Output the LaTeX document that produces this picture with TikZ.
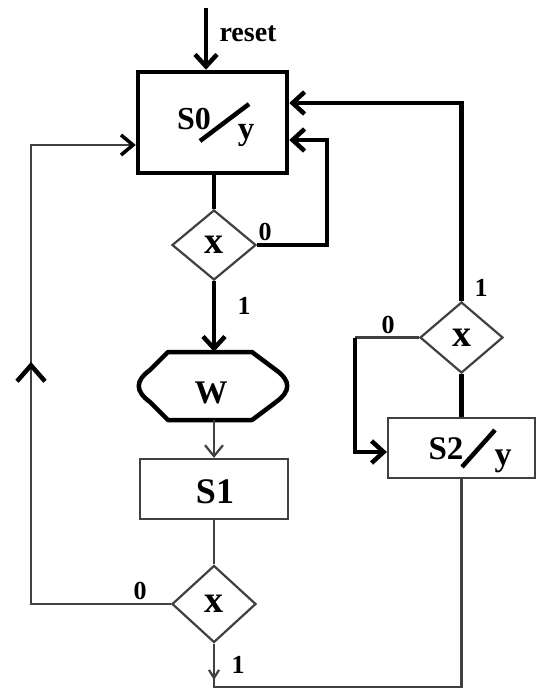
\documentclass[tikz,border=0pt]{standalone}
\usepackage{fontspec}
\setmainfont{Liberation Serif}
\usetikzlibrary{arrows.meta,shapes.geometric,decorations.markings}
\begin{document}
\begin{tikzpicture}[x=1pt,y=-1pt,
  thickline/.style={line width=4.5pt,black},
  thinline/.style={line width=2.2pt,black!75},
  bigarrow/.style={-{Straight Barb[length=12pt,width=22pt]}},
  thinarrow/.style={-{Straight Barb[length=11pt,width=18pt]}},
  smallarrow/.style={-{Straight Barb[length=8pt,width=10pt]}},
  thickbox/.style={draw=black,line width=4.5pt,rectangle,inner sep=0pt},
  thinbox/.style={draw=black!75,line width=2.2pt,rectangle,inner sep=0pt},
  dia/.style={draw=black!75,line width=2.2pt,diamond,inner sep=0pt,
    font=\fontsize{38}{38}\bfseries\selectfont},
  txt/.style={inner sep=0pt,anchor=base},
  lbl/.style={inner sep=0pt,anchor=base,font=\fontsize{26}{26}\bfseries\selectfont}]
\useasboundingbox (0,0) rectangle (551,693);
\fill[white] (0,0) rectangle (551,693);

% nodes
\node[thickbox,minimum width=149pt,minimum height=101pt] (S0) at (212.5,122.5) {};
\node[dia,minimum width=84pt,minimum height=70pt] (d1) at (214,245) {x};
\node[inner sep=0pt,minimum width=150pt,minimum height=68pt] (W) at (213,386) {};
\node[thinbox,minimum width=148pt,minimum height=60pt] (S1) at (214,489) {};
\node[dia,minimum width=84pt,minimum height=77pt] (d3) at (214,604) {x};
\node[dia,minimum width=83pt,minimum height=71pt] (d2) at (461.5,337.5) {x};
\node[thinbox,minimum width=147pt,minimum height=60pt] (S2) at (461.5,448) {};

% texts
\node[txt,font=\fontsize{28}{28}\bfseries\selectfont] (treset) at (248,42) {reset};
\node[txt,font=\fontsize{32}{32}\bfseries\selectfont] (ts0) at (194,129) {S0};
\node[txt,font=\fontsize{33}{33}\bfseries\selectfont] (ty0) at (246,139) {y};
\node[txt,font=\fontsize{33}{33}\bfseries\selectfont] (tw) at (211,403) {W};
\node[txt,font=\fontsize{36}{36}\bfseries\selectfont] (ts1) at (215,503) {S1};
\node[txt,font=\fontsize{33}{33}\bfseries\selectfont] (ts2) at (446,459) {S2};
\node[txt,font=\fontsize{34}{34}\bfseries\selectfont] (ty2) at (503,465) {y};
\draw[thickline] (200,141) -- (249,104);
\draw[thickline] (462,467) -- (495,430);

% W shape
\draw[thickline,line join=round] (168,352) -- (252,352) -- (276,370)
  .. controls (291,381) and (291,391) .. (276,402) -- (252,420) -- (168,420)
  -- (150,402) .. controls (135,391) and (135,381) .. (150,370) -- cycle;

% labels
\node[lbl] (l0a) at (265,240) {0};
\node[lbl] (l1a) at (244,314) {1};
\node[lbl] (l1b) at (481,296) {1};
\node[lbl] (l0b) at (388,333) {0};
\node[lbl] (l0c) at (140,599) {0};
\node[lbl] (l1c) at (238,673) {1};

% coordinates
\coordinate (rs) at (206,8);
\coordinate (c1) at (327,140);
\coordinate (c2) at (31,145);
\coordinate (c3) at (214,680);
\coordinate (c4) at (214,687);
\coordinate (c5) at (0,103);
\coordinate (c6) at (355,337.5);
\coordinate (c7) at (0,452);

% connectors
\draw[thickline,bigarrow] (rs) -- (rs |- S0.north);
\draw[thickline] (S0.south -| d1.north) -- (d1.north);
\draw[thickline,bigarrow] (d1.east) -| (c1) -- (c1 -| S0.east);
\draw[thickline,bigarrow] (d1.south) -- (W.north -| d1.south);
\draw[thinline,thinarrow] (W.south -| S1.north) -- (S1.north);
\draw[thinline] (S1.south) -- (d3.north);
\draw[thinline,
  -{Straight Barb[length=12pt,width=20pt,line width=3.5pt,color=black]},
  postaction={decorate},
  decoration={markings,mark=at position 382pt with
    {\arrow{Straight Barb[length=16pt,width=28pt,line width=4.5pt,color=black]}}}]
  (d3.west) -| (c2) -- (c2 -| S0.west);
\draw[thinline,smallarrow] (d3.south) -- (c3);
\draw[thinline] (d3.south) -- (c4) -| (S2.south);
\draw[thickline,bigarrow] (d2.north) |- (S0.east |- c5);
\draw[thinline] (d2.west) -- (c6);
\draw[thickline,bigarrow] (c6) |- (S2.west |- c7);
\draw[thickline] (d2.south) -- (S2.north);
\end{tikzpicture}
\end{document}
